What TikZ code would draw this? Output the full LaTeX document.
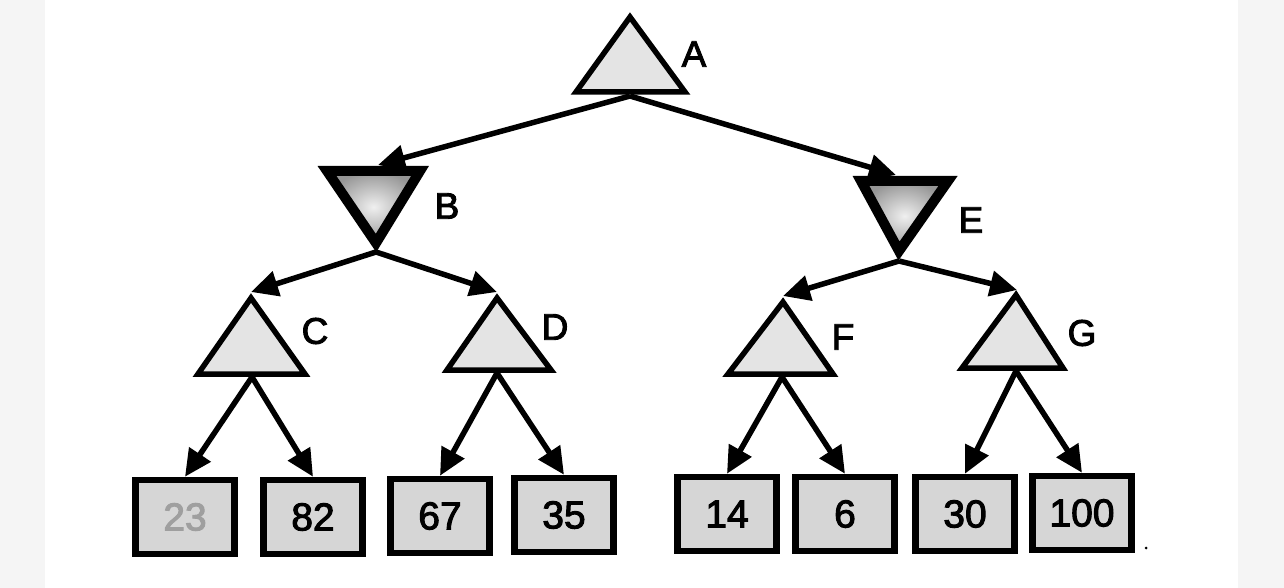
\documentclass[tikz,border=0pt]{standalone}
\usepackage{fontspec}
\setmainfont{Liberation Sans}
\newfontfamily\heavyfont[FakeBold=2.5]{Liberation Sans}
\usetikzlibrary{arrows.meta}
\definecolor{bandgray}{RGB}{245,245,245}
\definecolor{triup}{RGB}{228,228,228}
\definecolor{leafgray}{RGB}{214,214,214}
\definecolor{mingray}{RGB}{150,150,150}
\begin{document}
\begin{tikzpicture}[x=1pt,y=-1pt,
  tri/.style={draw=black,line width=5.5pt,fill=triup,line join=miter},
  mintri/.style={draw=black,line width=10pt,line join=miter,inner color=gray!12,outer color=mingray},
  leaf/.style={draw=black,line width=6.5pt,fill=leafgray,minimum width=99pt,minimum height=74pt,inner sep=0pt,font=\heavyfont\fontsize{39}{40}\selectfont},
  lbl/.style={font=\heavyfont\fontsize{37}{40}\selectfont,inner sep=0pt},
  edge/.style={line width=5.5pt,-{Triangle[length=27pt,width=25pt]}}]
\useasboundingbox (0,0) rectangle (1284,588);
\fill[white] (0,0) rectangle (1284,588);
\fill[bandgray] (0,0) rectangle (45,588);
\fill[bandgray] (1238,0) rectangle (1284,588);

% MAX triangles
\draw[tri] (630,17) -- (576,92) -- (685,92) -- cycle;
\draw[tri] (251,298) -- (198,374) -- (305,374) -- cycle;
\draw[tri] (497,298) -- (447,370) -- (551,370) -- cycle;
\draw[tri] (783,302) -- (728,374) -- (833,374) -- cycle;
\draw[tri] (1016,295) -- (962,368) -- (1063,368) -- cycle;
% MIN triangles
\draw[mintri] (327,171) -- (420,171) -- (376,243) -- cycle;
\draw[mintri] (861,181) -- (948,181) -- (899,251) -- cycle;

% labels
\node[lbl] (lA) at (694,54) {A};
\node[lbl] (lB) at (447,206) {B};
\node[lbl] (lE) at (971,220) {E};
\node[lbl] (lC) at (315,331) {C};
\node[lbl] (lD) at (555,327) {D};
\node[lbl] (lF) at (843,337) {F};
\node[lbl] (lG) at (1082,333) {G};

% connection points
\coordinate (Abot) at (630,96);
\coordinate (Btop) at (378,165);
\coordinate (Bbot) at (376,252);
\coordinate (Etop) at (896,175);
\coordinate (Ebot) at (899,261);
\coordinate (Ctop) at (251,292);
\coordinate (Cbot) at (252,377);
\coordinate (Dtop) at (497,292);
\coordinate (Dbot) at (497,373);
\coordinate (Ftop) at (783,296);
\coordinate (Fbot) at (782,377);
\coordinate (Gtop) at (1017,290);
\coordinate (Gbot) at (1016,371);

% leaves
\node[leaf,text=gray!75] (l23) at (185,517) {23};
\node[leaf] (l82) at (313,517) {82};
\node[leaf] (l67) at (440,516) {67};
\node[leaf] (l35) at (564,515) {35};
\node[leaf] (l14) at (727,514) {14};
\node[leaf] (l6) at (845,514) {6};
\node[leaf] (l30) at (965,514) {30};
\node[leaf] (l100) at (1082,513) {100};

% edges
\draw[edge] (Abot) -- (Btop);
\draw[edge] (Abot) -- (Etop);
\draw[edge] (Bbot) -- (Ctop);
\draw[edge] (Bbot) -- (Dtop);
\draw[edge] (Ebot) -- (Ftop);
\draw[edge] (Ebot) -- (Gtop);
\draw[edge] (Cbot) -- (l23.north);
\draw[edge] (Cbot) -- (l82.north);
\draw[edge] (Dbot) -- (l67.north);
\draw[edge] (Dbot) -- (l35.north);
\draw[edge] (Fbot) -- (l14.north);
\draw[edge] (Fbot) -- (l6.north);
\draw[edge] (Gbot) -- (l30.north);
\draw[edge] (Gbot) -- (l100.north);

\fill[black] (1146,548) circle (1.5pt);
\end{tikzpicture}
\end{document}
